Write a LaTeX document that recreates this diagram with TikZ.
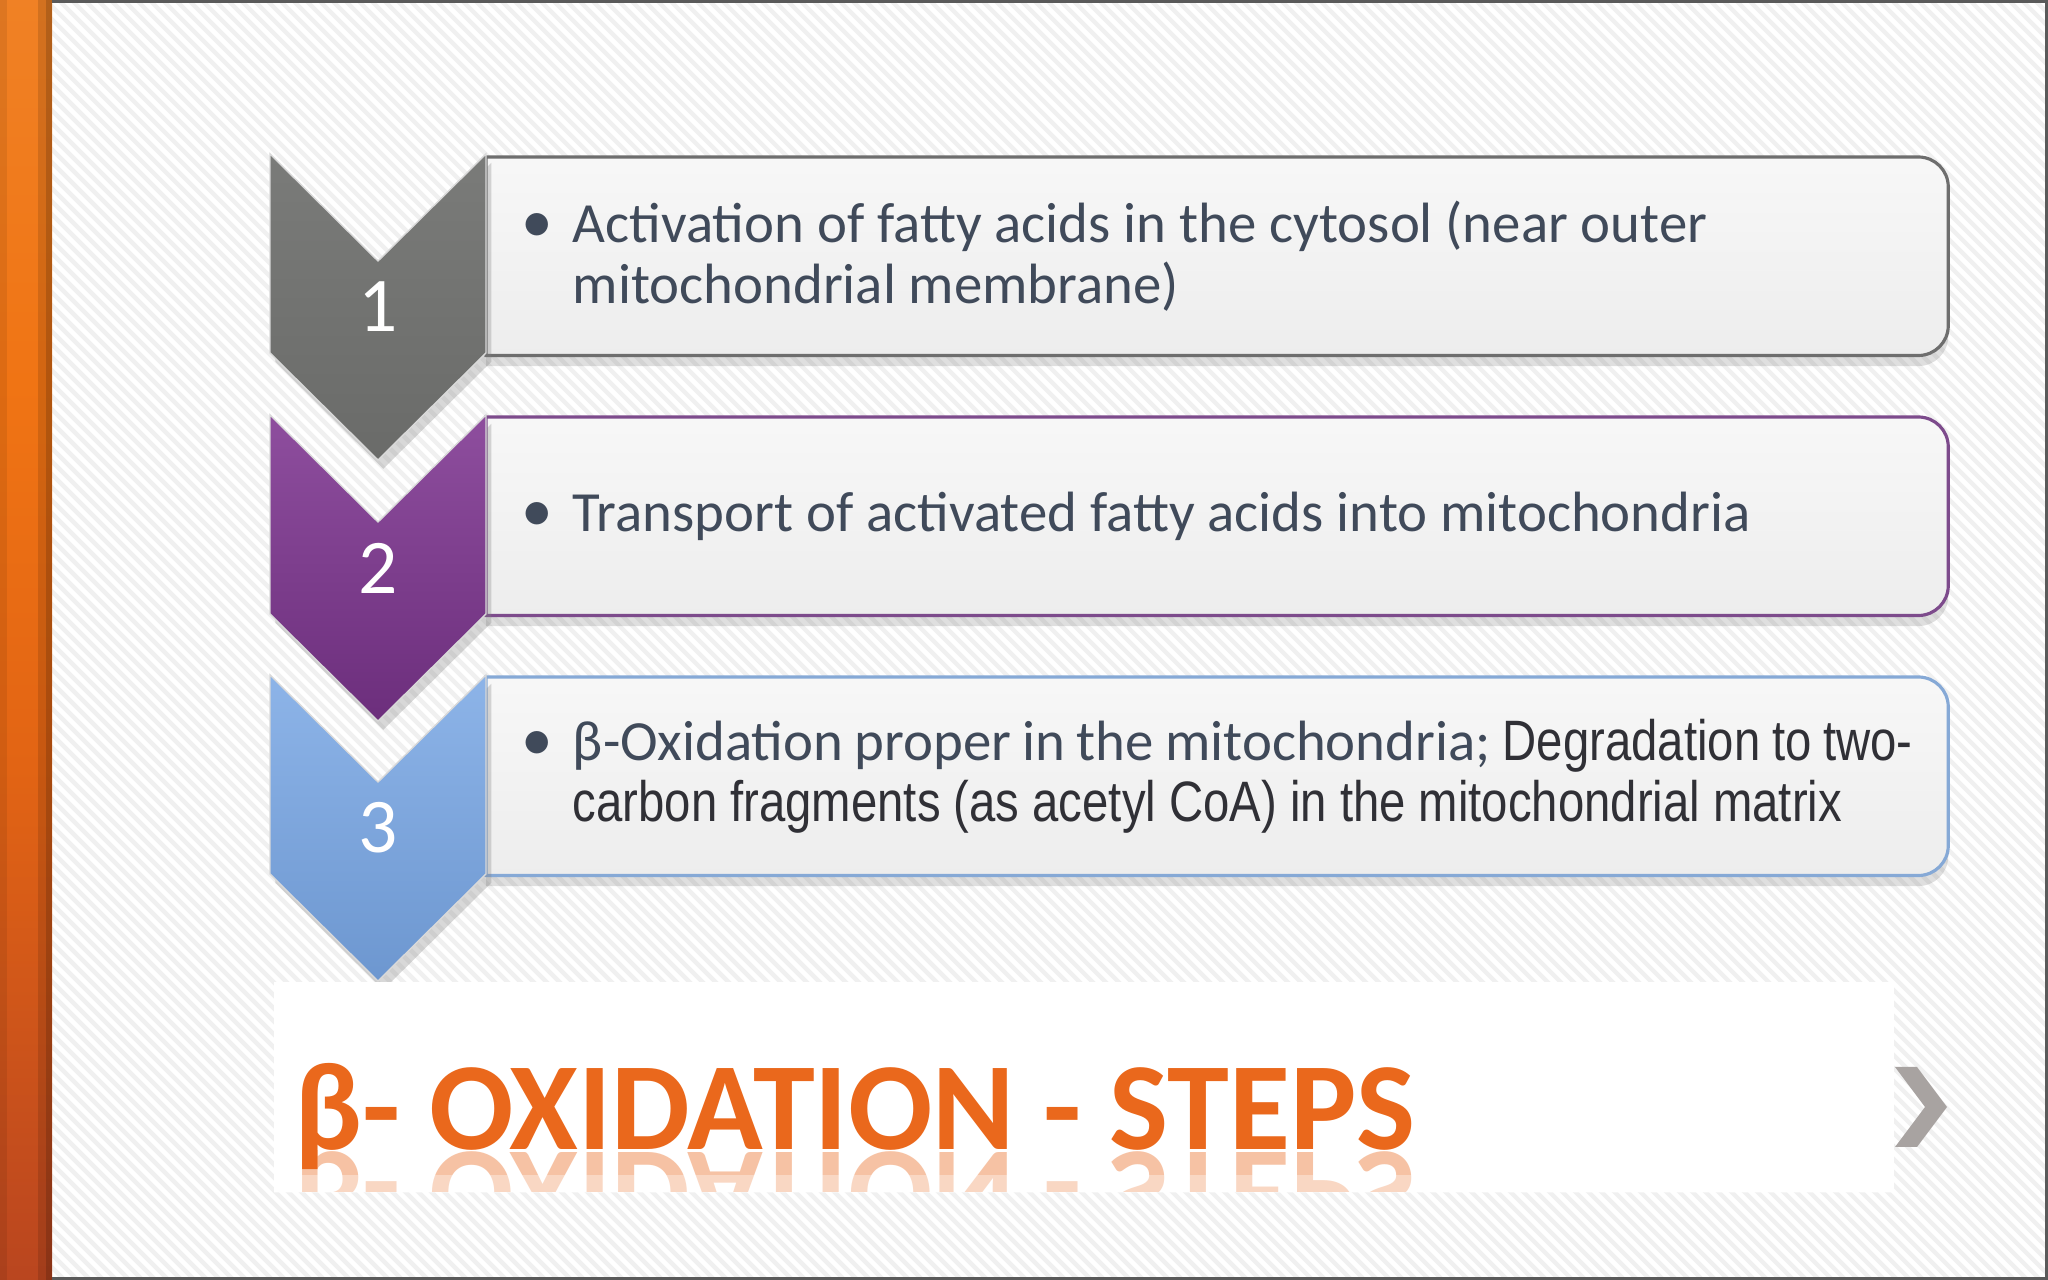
\documentclass[tikz,border=0pt]{standalone}
\usepackage{fontspec}
\setmainfont{Carlito}
\newfontfamily\narrowfont[FakeStretch=0.83]{Liberation Sans}
\usetikzlibrary{shadows}
\definecolor{slidebg}{HTML}{F0F0F0}
\definecolor{framegray}{HTML}{5A5A5A}
\definecolor{bodytext}{HTML}{404A5A}
\definecolor{narrowtext}{HTML}{303036}
\definecolor{grayhi}{HTML}{7A7B79}
\definecolor{graylo}{HTML}{6A6B69}
\definecolor{purplehi}{HTML}{8E4E9E}
\definecolor{purplelo}{HTML}{6C2E7C}
\definecolor{bluehi}{HTML}{8DB4E8}
\definecolor{bluelo}{HTML}{6D97D0}
\definecolor{grayedge}{HTML}{6E6E6E}
\definecolor{purpleedge}{HTML}{7D4B8C}
\definecolor{blueedge}{HTML}{86A9D6}
\definecolor{titleorange}{HTML}{EA681C}
\definecolor{nextgray}{HTML}{A8A3A1}
\definecolor{barbottom}{HTML}{862824}
\definecolor{barlow}{HTML}{9C3322}
\definecolor{barmidlow}{HTML}{C04A1E}
\definecolor{barmid}{HTML}{E26414}
\definecolor{barhigh}{HTML}{F07414}
\definecolor{barupper}{HTML}{F08A30}
\definecolor{bartop}{HTML}{ECA05E}
\pgfdeclareverticalshading{orangebar}{100bp}{color(0bp)=(barbottom); color(12bp)=(barlow);
  color(28bp)=(barmidlow); color(45bp)=(barmid); color(60bp)=(barhigh); color(85bp)=(barupper);
  color(100bp)=(bartop)}
\pgfdeclarelayer{backdrop}
\pgfdeclarelayer{frames}
\pgfsetlayers{backdrop,frames,main}
\newcommand\stepbullet{\makebox[0.9em][l]{\fontsize{18}{17.4}\selectfont\textbullet}}
\newcommand\narrowpart[1]{{\color{narrowtext}\narrowfont\fontsize{16.2}{17.4}\selectfont #1}}

\begin{document}
\begin{tikzpicture}[x=0.01cm, y=-0.01cm,
  chevron/.style={draw=white!85!black, line width=0.4pt,
    drop shadow={shadow xshift=1.5pt, shadow yshift=-2.5pt, opacity=.3}},
  stepbox/.style={minimum width=14.6cm, minimum height=1.97cm, inner xsep=0.31cm,
    anchor=north west, text width=13.9cm, align=flush left,
    font=\fontsize{16.15}{17.4}\selectfont, text=bodytext},
  boxline/.style={line width=0.9pt, top color=white!97!black, bottom color=white!93!black,
    drop shadow={shadow xshift=0pt, shadow yshift=-3pt, opacity=.25}},
  num/.style={text=white, font=\fontsize{22}{22}\selectfont},
  titletext/.style={text=titleorange, inner sep=0pt, font=\fontsize{35.5}{36}\selectfont\bfseries}
]
\useasboundingbox (0,0) rectangle (2048,1280);

% slide background with stripes
\begin{pgfonlayer}{backdrop}
\fill[slidebg] (52,0) rectangle (2048,1280);
\begin{scope}
\clip (52,0) rectangle (2048,1280);
\foreach \s in {-1300,-1287,...,2050}
  \draw[white, line width=1.3pt] (\s,0) -- ++(1280,1280);
\end{scope}
\shade[shading=orangebar] (0,0) rectangle (52,1280);
\fill[black, opacity=.08] (0,0) rectangle (7,1280);
\fill[black, opacity=.12] (38,0) rectangle (52,1280);
\fill[black, opacity=.15] (46,0) rectangle (52,1280);
\draw[framegray, line width=0.03cm] (52,1.5) -- (2046.5,1.5) -- (2046.5,1278.5) -- (52,1278.5);
\end{pgfonlayer}

% step boxes
\node[stepbox] (box1) at (486,157) {\stepbullet Activation of fatty acids in the cytosol (near outer\\
  \hspace*{0.9em}mitochondrial membrane)};
\node[stepbox] (box2) at (486,417) {\stepbullet Transport of activated fatty acids into mitochondria};
\node[stepbox] (box3) at (486,677) {\stepbullet β-Oxidation proper in the mitochondria; \narrowpart{Degradation to two-}\\
  \hspace*{0.9em}\narrowpart{carbon fragments (as acetyl CoA) in the mitochondrial matrix}};

\begin{pgfonlayer}{frames}
\foreach \b/\c in {box1/grayedge, box2/purpleedge, box3/blueedge}
  \draw[boxline, draw=\c] (\b.south west) -- (\b.north west)
    -- ([xshift=-8.5pt]\b.north east) arc[start angle=90, end angle=0, radius=8.5pt]
    -- ([yshift=8.5pt]\b.south east) arc[start angle=0, end angle=-90, radius=8.5pt]
    -- cycle;
\end{pgfonlayer}

% chevrons with numbers
\foreach \t/\hi/\lo/\n in {154/grayhi/graylo/1, 415/purplehi/purplelo/2, 675/bluehi/bluelo/3} {
  \draw[chevron, top color=\hi, bottom color=\lo] (270,\t) -- (378,\t+107) -- (486,\t)
    -- (486,\t+199) -- (378,\t+306) -- (270,\t+199) -- cycle;
  \node[num] (n\n) at (378,\t+153) {\n};
}

% title band
\fill[white] (274,982) rectangle (1894,1192);
\node[titletext, anchor=base west] (title) at (294,1150) {β- OXIDATION - STEPS};
\begin{scope}
\clip (274,1151) rectangle (1894,1192);
\node[titletext, anchor=base west, yscale=-1, transform shape, opacity=.4] (titleecho) at (294,1153) {β- OXIDATION - STEPS};
\end{scope}
\fill[white, opacity=.35] (274,1175) rectangle (1894,1193);

% next arrow
\fill[nextgray] (1895,1067) -- (1917,1067) -- (1947,1107) -- (1917,1147) -- (1895,1147) -- (1925,1107) -- cycle;
\end{tikzpicture}
\end{document}
